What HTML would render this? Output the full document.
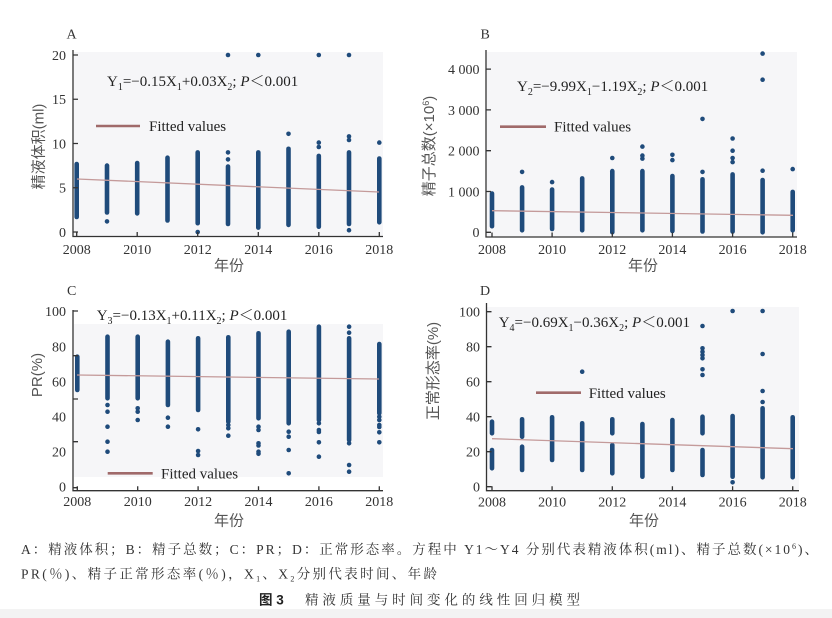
<!DOCTYPE html>
<html><head><meta charset="utf-8">
<style>
html,body{margin:0;padding:0;background:#fff;}
svg{display:block;}
.num{font-family:"Liberation Serif","Noto Serif CJK SC",serif;fill:#333;font-size:14px;}
.eq{font-family:"Liberation Serif","Noto Serif CJK SC",serif;fill:#222;font-size:15px;}
.lg{font-family:"Liberation Serif",serif;fill:#222;font-size:15px;}
.cj{font-family:"Liberation Sans","Noto Sans CJK SC",sans-serif;fill:#555;font-size:15px;}
.cap{font-family:"Liberation Serif","Noto Serif CJK SC",serif;fill:#333;font-size:13.5px;}
.ax{stroke:#333;stroke-width:1.3;fill:none;}
.col{stroke:#1f4b7b;stroke-width:4.6;stroke-linecap:round;}
.dt{fill:#1f4b7b;}
.fit{stroke:#c49a9a;stroke-width:1.3;}
.leg{stroke:#a06a6a;stroke-width:2.6;}
</style></head>
<body>
<svg width="832" height="618" viewBox="0 0 832 618" xmlns="http://www.w3.org/2000/svg">
<rect x="0" y="0" width="832" height="618" fill="#fff"/>
<rect x="0" y="609" width="832" height="9" fill="#f3f3f3"/>

<!-- ============ PANEL A ============ -->
<rect x="74" y="52" width="309" height="184" fill="#f6f6f8"/>
<g>
<line class="col" x1="76.7" y1="164" x2="76.7" y2="217"/>
<line class="col" x1="107" y1="165.6" x2="107" y2="212.5"/><circle class="dt" cx="107" cy="221.4" r="2.3"/>
<line class="col" x1="137.2" y1="163" x2="137.2" y2="213.4"/>
<line class="col" x1="167.5" y1="157.7" x2="167.5" y2="220.5"/>
<line class="col" x1="197.7" y1="152.4" x2="197.7" y2="223.2"/><circle class="dt" cx="197.7" cy="232" r="2.3"/>
<line class="col" x1="228" y1="166.5" x2="228" y2="224"/><circle class="dt" cx="228" cy="55" r="2.3"/><circle class="dt" cx="228" cy="152.4" r="2.3"/><circle class="dt" cx="228" cy="159.4" r="2.3"/>
<line class="col" x1="258.3" y1="152.4" x2="258.3" y2="227.6"/><circle class="dt" cx="258.3" cy="55" r="2.3"/>
<line class="col" x1="288.5" y1="148.8" x2="288.5" y2="224.9"/><circle class="dt" cx="288.5" cy="133.8" r="2.3"/>
<line class="col" x1="318.8" y1="155.9" x2="318.8" y2="226.7"/><circle class="dt" cx="318.8" cy="55" r="2.3"/><circle class="dt" cx="318.8" cy="142.6" r="2.3"/><circle class="dt" cx="318.8" cy="147" r="2.3"/>
<line class="col" x1="349" y1="152.4" x2="349" y2="224"/><circle class="dt" cx="349" cy="55" r="2.3"/><circle class="dt" cx="349" cy="136.4" r="2.3"/><circle class="dt" cx="349" cy="140" r="2.3"/><circle class="dt" cx="349" cy="230.2" r="2.3"/>
<line class="col" x1="379.3" y1="158.5" x2="379.3" y2="222.3"/><circle class="dt" cx="379.3" cy="142.6" r="2.3"/>
</g>
<line class="fit" x1="77" y1="179" x2="379" y2="192"/>
<line class="leg" x1="96" y1="126" x2="140" y2="126"/>
<text class="lg" x="149" y="131">Fitted values</text>
<text class="eq" x="107" y="86">Y<tspan font-size="10" dy="4">1</tspan><tspan dy="-4">=−0.15X</tspan><tspan font-size="10" dy="4">1</tspan><tspan dy="-4">+0.03X</tspan><tspan font-size="10" dy="4">2</tspan><tspan dy="-4">; </tspan><tspan font-style="italic">P</tspan>＜0.001</text>
<path class="ax" d="M73 50 V236.5 H383"/>
<path class="ax" d="M73 55 H78 M73 99.25 H78 M73 143.5 H78 M73 187.75 H78 M73 232 H78"/>
<path class="ax" d="M76.7 236.5 V232 M137.2 236.5 V232 M197.7 236.5 V232 M258.3 236.5 V232 M318.8 236.5 V232 M379.3 236.5 V232"/>
<g class="num" text-anchor="end">
<text x="66" y="60">20</text><text x="66" y="104">15</text><text x="66" y="148.5">10</text><text x="66" y="192.7">5</text><text x="66" y="237">0</text>
</g>
<g class="num" text-anchor="middle">
<text x="76.7" y="254">2008</text><text x="137.2" y="254">2010</text><text x="197.7" y="254">2012</text><text x="258.3" y="254">2014</text><text x="318.8" y="254">2016</text><text x="379.3" y="254">2018</text>
</g>
<text class="cj" x="229" y="270.5" text-anchor="middle">年份</text>
<text class="cj" transform="translate(43.5,146.5) rotate(-90)" text-anchor="middle">精液体积(ml)</text>
<text class="num" x="66.5" y="38.5" font-size="13">A</text>

<!-- ============ PANEL B ============ -->
<rect x="487" y="52" width="310" height="185" fill="#f6f6f8"/>
<g>
<line class="col" x1="492" y1="193.5" x2="492" y2="226.2"/>
<line class="col" x1="522.1" y1="187.4" x2="522.1" y2="230.3"/><circle class="dt" cx="522.1" cy="171.9" r="2.3"/>
<line class="col" x1="552.1" y1="189.5" x2="552.1" y2="229"/><circle class="dt" cx="552.1" cy="182.1" r="2.3"/>
<line class="col" x1="582.2" y1="178.4" x2="582.2" y2="230.3"/>
<line class="col" x1="612.3" y1="171.1" x2="612.3" y2="232.3"/><circle class="dt" cx="612.3" cy="158" r="2.3"/>
<line class="col" x1="642.4" y1="171.1" x2="642.4" y2="230.3"/><circle class="dt" cx="642.4" cy="146.6" r="2.3"/><circle class="dt" cx="642.4" cy="155.6" r="2.3"/><circle class="dt" cx="642.4" cy="158.6" r="2.3"/>
<line class="col" x1="672.4" y1="176" x2="672.4" y2="231"/><circle class="dt" cx="672.4" cy="154.8" r="2.3"/><circle class="dt" cx="672.4" cy="160.1" r="2.3"/>
<line class="col" x1="702.5" y1="179.3" x2="702.5" y2="231.5"/><circle class="dt" cx="702.5" cy="118.9" r="2.3"/><circle class="dt" cx="702.5" cy="171.9" r="2.3"/>
<line class="col" x1="732.6" y1="174.4" x2="732.6" y2="231.5"/><circle class="dt" cx="732.6" cy="138.5" r="2.3"/><circle class="dt" cx="732.6" cy="150.7" r="2.3"/><circle class="dt" cx="732.6" cy="158" r="2.3"/><circle class="dt" cx="732.6" cy="162.1" r="2.3"/>
<line class="col" x1="762.6" y1="180" x2="762.6" y2="232.3"/><circle class="dt" cx="762.6" cy="53.6" r="2.3"/><circle class="dt" cx="762.6" cy="79.7" r="2.3"/><circle class="dt" cx="762.6" cy="170.7" r="2.3"/>
<line class="col" x1="792.7" y1="191.9" x2="792.7" y2="230.3"/><circle class="dt" cx="792.7" cy="169.1" r="2.3"/>
</g>
<line class="fit" x1="492" y1="210.7" x2="793" y2="215.3"/>
<line class="leg" x1="500" y1="126.7" x2="546" y2="126.7"/>
<text class="lg" x="554" y="131.5">Fitted values</text>
<text class="eq" x="517" y="91">Y<tspan font-size="10" dy="4">2</tspan><tspan dy="-4">=−9.99X</tspan><tspan font-size="10" dy="4">1</tspan><tspan dy="-4">−1.19X</tspan><tspan font-size="10" dy="4">2</tspan><tspan dy="-4">; </tspan><tspan font-style="italic">P</tspan>＜0.001</text>
<path class="ax" d="M486 50 V237 H797"/>
<path class="ax" d="M486 69.1 H491 M486 109.9 H491 M486 150.7 H491 M486 191.5 H491 M486 232.3 H491"/>
<path class="ax" d="M492 237 V232.5 M552.1 237 V232.5 M612.3 237 V232.5 M672.4 237 V232.5 M732.6 237 V232.5 M792.7 237 V232.5"/>
<g class="num" text-anchor="end" font-size="13.5">
<text x="479.5" y="74">4 000</text><text x="479.5" y="114.8">3 000</text><text x="479.5" y="155.6">2 000</text><text x="479.5" y="196.4">1 000</text><text x="479.5" y="237.2">0</text>
</g>
<g class="num" text-anchor="middle">
<text x="492" y="254">2008</text><text x="552.1" y="254">2010</text><text x="612.3" y="254">2012</text><text x="672.4" y="254">2014</text><text x="732.6" y="254">2016</text><text x="792.7" y="254">2018</text>
</g>
<text class="cj" x="643" y="270.5" text-anchor="middle">年份</text>
<text class="cj" transform="translate(434,146) rotate(-90)" text-anchor="middle">精子总数(×10<tspan font-size="9" dy="-5">6</tspan><tspan dy="5">)</tspan></text>
<text class="num" x="480.5" y="38.5" font-size="13">B</text>

<!-- ============ PANEL C ============ -->
<rect x="74" y="324" width="309" height="153" fill="#f6f6f8"/>
<g>
<line class="col" x1="77.3" y1="356.7" x2="77.3" y2="390"/>
<line class="col" x1="107.5" y1="336.7" x2="107.5" y2="398.3"/><circle class="dt" cx="107.5" cy="405" r="2.3"/><circle class="dt" cx="107.5" cy="411.7" r="2.3"/><circle class="dt" cx="107.5" cy="426.7" r="2.3"/><circle class="dt" cx="107.5" cy="441.7" r="2.3"/><circle class="dt" cx="107.5" cy="451.7" r="2.3"/>
<line class="col" x1="137.7" y1="336.7" x2="137.7" y2="398.3"/><circle class="dt" cx="137.7" cy="408.3" r="2.3"/><circle class="dt" cx="137.7" cy="411.7" r="2.3"/><circle class="dt" cx="137.7" cy="420" r="2.3"/>
<line class="col" x1="167.9" y1="341.7" x2="167.9" y2="405"/><circle class="dt" cx="167.9" cy="417.7" r="2.3"/><circle class="dt" cx="167.9" cy="426.7" r="2.3"/>
<line class="col" x1="198.1" y1="338.3" x2="198.1" y2="410"/><circle class="dt" cx="198.1" cy="429.3" r="2.3"/><circle class="dt" cx="198.1" cy="451" r="2.3"/><circle class="dt" cx="198.1" cy="455" r="2.3"/>
<line class="col" x1="228.3" y1="337.3" x2="228.3" y2="421.7"/><circle class="dt" cx="228.3" cy="425" r="2.3"/><circle class="dt" cx="228.3" cy="428.3" r="2.3"/><circle class="dt" cx="228.3" cy="435.7" r="2.3"/>
<line class="col" x1="258.5" y1="333.3" x2="258.5" y2="418.3"/><circle class="dt" cx="258.5" cy="426.7" r="2.3"/><circle class="dt" cx="258.5" cy="430" r="2.3"/><circle class="dt" cx="258.5" cy="443.3" r="2.3"/><circle class="dt" cx="258.5" cy="445.5" r="2.3"/><circle class="dt" cx="258.5" cy="451.7" r="2.3"/><circle class="dt" cx="258.5" cy="453.8" r="2.3"/>
<line class="col" x1="288.7" y1="331.7" x2="288.7" y2="423.3"/><circle class="dt" cx="288.7" cy="431.7" r="2.3"/><circle class="dt" cx="288.7" cy="436.7" r="2.3"/><circle class="dt" cx="288.7" cy="450" r="2.3"/><circle class="dt" cx="288.7" cy="473.3" r="2.3"/>
<line class="col" x1="318.9" y1="326.7" x2="318.9" y2="420"/><circle class="dt" cx="318.9" cy="423.3" r="2.3"/><circle class="dt" cx="318.9" cy="430" r="2.3"/><circle class="dt" cx="318.9" cy="432" r="2.3"/><circle class="dt" cx="318.9" cy="442.3" r="2.3"/><circle class="dt" cx="318.9" cy="456.7" r="2.3"/>
<line class="col" x1="349.1" y1="338.3" x2="349.1" y2="440"/><circle class="dt" cx="349.1" cy="326.7" r="2.3"/><circle class="dt" cx="349.1" cy="332.7" r="2.3"/><circle class="dt" cx="349.1" cy="443.3" r="2.3"/><circle class="dt" cx="349.1" cy="465" r="2.3"/><circle class="dt" cx="349.1" cy="471.7" r="2.3"/>
<line class="col" x1="379.3" y1="344" x2="379.3" y2="413.3"/><circle class="dt" cx="379.3" cy="416.7" r="2.3"/><circle class="dt" cx="379.3" cy="420" r="2.3"/><circle class="dt" cx="379.3" cy="425" r="2.3"/><circle class="dt" cx="379.3" cy="427" r="2.3"/><circle class="dt" cx="379.3" cy="432.3" r="2.3"/><circle class="dt" cx="379.3" cy="442.3" r="2.3"/>
</g>
<line class="fit" x1="77" y1="375" x2="379" y2="379"/>
<line class="leg" x1="107.7" y1="473.3" x2="152.7" y2="473.3"/>
<text class="lg" x="161" y="478.5">Fitted values</text>
<text class="eq" x="96.7" y="320">Y<tspan font-size="10" dy="4">3</tspan><tspan dy="-4">=−0.13X</tspan><tspan font-size="10" dy="4">1</tspan><tspan dy="-4">+0.11X</tspan><tspan font-size="10" dy="4">2</tspan><tspan dy="-4">; </tspan><tspan font-style="italic">P</tspan>＜0.001</text>
<path class="ax" d="M73 310 V490.7 H383"/>
<path class="ax" d="M73 311 H78 M73 355.7 H78 M73 399 H78 M73 441.7 H78 M73 487.7 H78"/>
<path class="ax" d="M77.3 490.7 V486.2 M137.7 490.7 V486.2 M198.1 490.7 V486.2 M258.5 490.7 V486.2 M318.9 490.7 V486.2 M379.3 490.7 V486.2"/>
<g class="num" text-anchor="end">
<text x="66" y="316">100</text><text x="66" y="351.7">80</text><text x="66" y="386.7">60</text><text x="66" y="421.7">40</text><text x="66" y="456.7">20</text><text x="66" y="491.7">0</text>
</g>
<g class="num" text-anchor="middle">
<text x="77.3" y="506">2008</text><text x="137.7" y="506">2010</text><text x="198.1" y="506">2012</text><text x="258.5" y="506">2014</text><text x="318.9" y="506">2016</text><text x="379.3" y="506">2018</text>
</g>
<text class="cj" x="229" y="525.5" text-anchor="middle">年份</text>
<text class="cj" transform="translate(42,375) rotate(-90)" text-anchor="middle">PR(%)</text>
<text class="num" x="67" y="295" font-size="13">C</text>

<!-- ============ PANEL D ============ -->
<rect x="487" y="307" width="312" height="184" fill="#f6f6f8"/>
<g>
<line class="col" x1="492" y1="421.7" x2="492" y2="433.3"/><line class="col" x1="492" y1="450" x2="492" y2="468.3"/>
<line class="col" x1="522.1" y1="419.3" x2="522.1" y2="436.7"/><line class="col" x1="522.1" y1="446.7" x2="522.1" y2="470"/>
<line class="col" x1="552.1" y1="417.3" x2="552.1" y2="460"/>
<line class="col" x1="582.2" y1="423.3" x2="582.2" y2="470"/><circle class="dt" cx="582.2" cy="371.7" r="2.3"/>
<line class="col" x1="612.3" y1="419.3" x2="612.3" y2="433.3"/><line class="col" x1="612.3" y1="445" x2="612.3" y2="473.3"/>
<line class="col" x1="642.4" y1="424" x2="642.4" y2="476.7"/>
<line class="col" x1="672.4" y1="420" x2="672.4" y2="470"/>
<line class="col" x1="702.5" y1="416.7" x2="702.5" y2="433.3"/><line class="col" x1="702.5" y1="450" x2="702.5" y2="475"/><circle class="dt" cx="702.5" cy="326" r="2.3"/><circle class="dt" cx="702.5" cy="348.3" r="2.3"/><circle class="dt" cx="702.5" cy="351.7" r="2.3"/><circle class="dt" cx="702.5" cy="355" r="2.3"/><circle class="dt" cx="702.5" cy="358.3" r="2.3"/><circle class="dt" cx="702.5" cy="369.3" r="2.3"/><circle class="dt" cx="702.5" cy="375" r="2.3"/>
<line class="col" x1="732.6" y1="416" x2="732.6" y2="476.7"/><circle class="dt" cx="732.6" cy="311" r="2.3"/><circle class="dt" cx="732.6" cy="482.3" r="2.3"/>
<line class="col" x1="762.6" y1="408.3" x2="762.6" y2="477.3"/><circle class="dt" cx="762.6" cy="311" r="2.3"/><circle class="dt" cx="762.6" cy="354" r="2.3"/><circle class="dt" cx="762.6" cy="391" r="2.3"/><circle class="dt" cx="762.6" cy="402" r="2.3"/>
<line class="col" x1="792.7" y1="417.3" x2="792.7" y2="477.3"/>
</g>
<line class="fit" x1="492" y1="438.7" x2="793" y2="448.7"/>
<line class="leg" x1="536" y1="392.7" x2="581" y2="392.7"/>
<text class="lg" x="588.7" y="398">Fitted values</text>
<text class="eq" x="498.7" y="327">Y<tspan font-size="10" dy="4">4</tspan><tspan dy="-4">=−0.69X</tspan><tspan font-size="10" dy="4">1</tspan><tspan dy="-4">−0.36X</tspan><tspan font-size="10" dy="4">2</tspan><tspan dy="-4">; </tspan><tspan font-style="italic">P</tspan>＜0.001</text>
<path class="ax" d="M486.5 303 V490.7 H799"/>
<path class="ax" d="M486.5 311.7 H491.5 M486.5 346.7 H491.5 M486.5 381.7 H491.5 M486.5 416.7 H491.5 M486.5 451.7 H491.5 M486.5 486.7 H491.5"/>
<path class="ax" d="M492 490.7 V486.2 M552.1 490.7 V486.2 M612.3 490.7 V486.2 M672.4 490.7 V486.2 M732.6 490.7 V486.2 M792.7 490.7 V486.2"/>
<g class="num" text-anchor="end">
<text x="480" y="316.7">100</text><text x="480" y="351.7">80</text><text x="480" y="386.7">60</text><text x="480" y="421.7">40</text><text x="480" y="456.7">20</text><text x="480" y="491.7">0</text>
</g>
<g class="num" text-anchor="middle">
<text x="492" y="506.5">2008</text><text x="552.1" y="506.5">2010</text><text x="612.3" y="506.5">2012</text><text x="672.4" y="506.5">2014</text><text x="732.6" y="506.5">2016</text><text x="792.7" y="506.5">2018</text>
</g>
<text class="cj" x="644" y="525.5" text-anchor="middle">年份</text>
<text class="cj" transform="translate(438,371) rotate(-90)" text-anchor="middle">正常形态率(%)</text>
<text class="num" x="480" y="295" font-size="13">D</text>

<!-- ============ CAPTION ============ -->
<text class="cap" x="21" y="554" textLength="797" lengthAdjust="spacing">A：精液体积；B：精子总数；C：PR；D：正常形态率。方程中 Y1～Y4 分别代表精液体积(ml)、精子总数(×10<tspan font-size="8" dy="-5">6</tspan><tspan dy="5">)、</tspan></text>
<text class="cap" x="21" y="578.5" textLength="416" lengthAdjust="spacing">PR(％)、精子正常形态率(％)，X<tspan font-size="8" dy="3">1</tspan><tspan dy="-3">、X</tspan><tspan font-size="8" dy="3">2</tspan><tspan dy="-3">分别代表时间、年龄</tspan></text>
<text x="259" y="604.5" font-family="'Liberation Sans','Noto Sans CJK SC',sans-serif" font-weight="bold" font-size="13.5" fill="#222">图 3</text>
<text class="cap" x="305" y="604.5" textLength="275" lengthAdjust="spacing">精液质量与时间变化的线性回归模型</text>
</svg>
</body></html>
